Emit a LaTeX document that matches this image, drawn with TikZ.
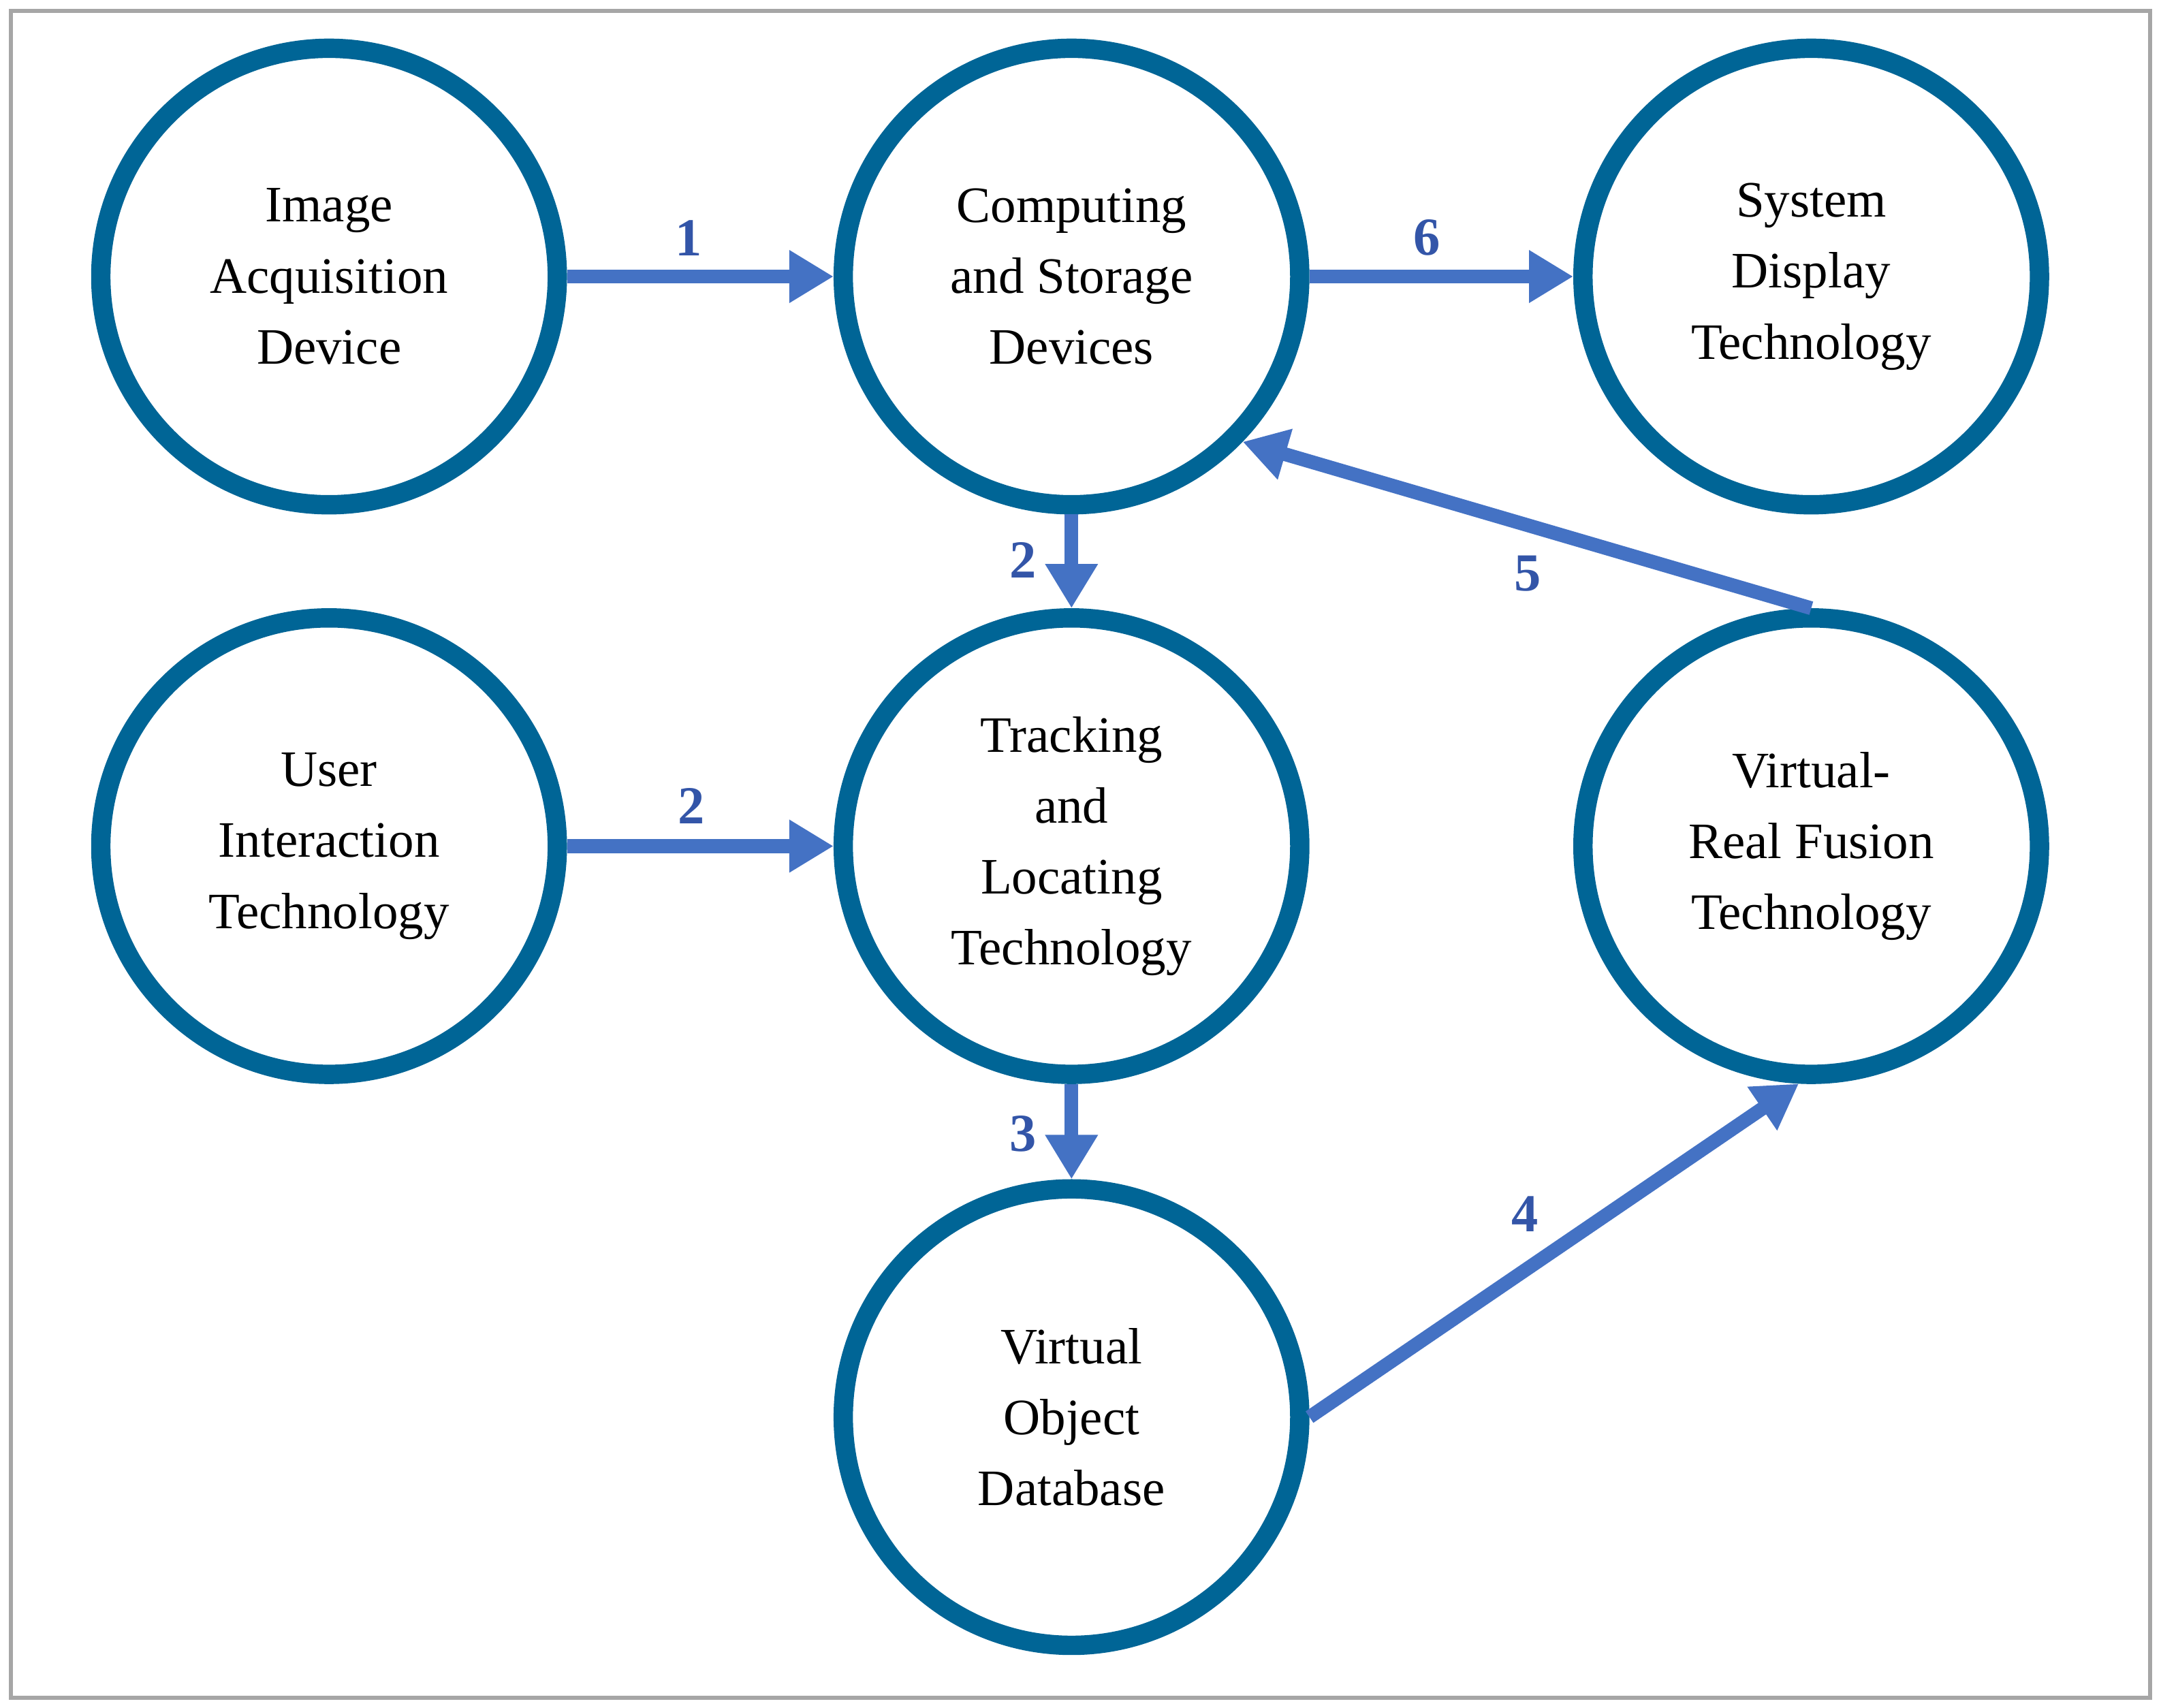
\documentclass[tikz,border=0pt]{standalone}
\usepackage{fontspec}
\setmainfont{Liberation Serif}
\usetikzlibrary{arrows.meta}
\definecolor{ring}{HTML}{006596}
\definecolor{arr}{HTML}{4472C4}
\definecolor{lab}{HTML}{3355A8}
\begin{document}
\begin{tikzpicture}[x=0.01cm,y=-0.01cm,
  c/.style={circle,draw=ring,line width=0.14cm,minimum size=3.3cm,inner sep=0pt,outer sep=0.07cm,align=center,font=\fontsize{10.5pt}{14.6pt}\selectfont},
  a/.style={draw=arr,line width=0.1cm,-{Triangle[length=0.32cm,width=0.36cm]}},
  l/.style={text=lab,font=\bfseries\fontsize{11pt}{13pt}\selectfont}]
\useasboundingbox (0,0) rectangle (1563,1235);
\draw[gray!70,line width=0.03cm] (8,8) rectangle (1555,1228);
\node[c] (ia) at (238,200) {Image\\Acquisition\\Device};
\node[c] (cs) at (775,200) {Computing\\and Storage\\Devices};
\node[c] (sd) at (1310,200) {System\\Display\\Technology};
\node[c] (ui) at (238,612) {User\\Interaction\\Technology};
\node[c] (tl) at (775,612) {Tracking\\and\\Locating\\Technology};
\node[c] (vr) at (1310,612) {Virtual-\\Real Fusion\\Technology};
\node[c] (vo) at (775,1025) {Virtual\\Object\\Database};
\draw[a] (ia.east) -- (cs.west);
\draw[a] (cs.east) -- (sd.west);
\draw[a] (cs.south) -- (tl.north);
\draw[a] (ui.east) -- (tl.west);
\draw[a] (tl.south) -- (vo.north);
\draw[a] (vo.east) -- (vr.-93);
\draw[a] (vr.north) -- (cs.-44);
\node[l] (n1) at (498,172) {1};
\node[l] (n6) at (1032,172) {6};
\node[l] (n2a) at (740,405) {2};
\node[l] (n5) at (1105,415) {5};
\node[l] (n2b) at (500,583) {2};
\node[l] (n3) at (740,820) {3};
\node[l] (n4) at (1103,878) {4};
\end{tikzpicture}
\end{document}
